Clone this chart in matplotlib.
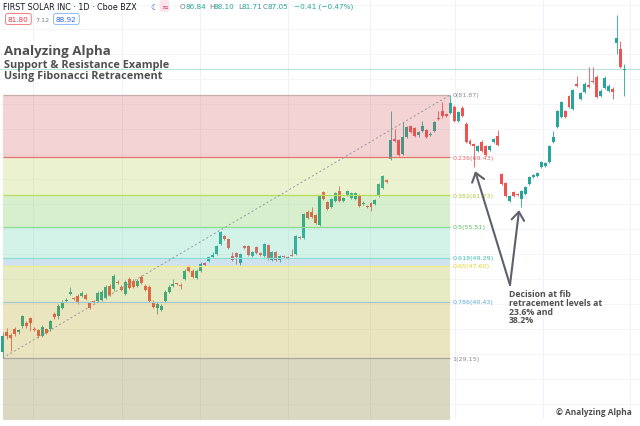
import matplotlib
matplotlib.use("Agg")
import matplotlib.pyplot as plt

# daily candles (bar index = position in list)
opens = [30.3, 34.4, 33.8, 35.0, 34.3, 35.5, 36.1, 37.1, 35.0, 34.7,
         33.5, 34.9, 34.9, 38.0, 37.6, 39.2, 40.6, 42.0, 41.1, 41.6,
         41.6, 41.8, 40.2, 40.6, 40.6, 40.8, 41.2, 43.6, 42.9, 44.4,
         43.4, 42.0, 45.0, 44.6, 43.6, 45.4, 43.6, 43.4, 40.4, 39.2,
         38.8, 40.6, 42.4, 43.6, 44.0, 43.8, 45.0, 47.4, 46.6, 45.2,
         46.6, 48.2, 48.6, 49.4, 50.0, 52.0, 53.6, 53.0, 49.6, 50.2,
         48.2, 51.6, 51.6, 49.6, 51.4, 50.2, 49.6, 51.8, 48.8, 50.4,
         48.8, 49.6, 49.4, 49.9, 50.0, 53.4, 53.2, 58.4, 58.4, 57.8,
         55.8, 62.4, 60.4, 59.4, 60.6, 62.6, 60.6, 61.8, 61.2, 61.0,
         61.8, 60.1, 59.7, 60.2, 60.0, 61.6, 63.2, 64.8, 69.0, 73.0,
         72.8, 70.0, 73.4, 75.6, 75.2, 73.8, 74.6, 74.8, 73.9, 74.6,
         77.2, 78.6, 78.0, 78.2, 79.5, 76.7, 79.3, 76.1, 72.7, 72.0,
         70.6, 72.5, 71.6, 70.8, 72.4, 73.6, 66.0, 64.2, 60.6, 62.4,
         62.0, 61.0, 62.0, 64.0, 65.5, 65.6, 67.4, 67.6, 68.4, 72.4,
         75.4, 77.4, 78.6, 81.6, 79.0, 84.1, 81.0, 82.4, 83.9, 84.7,
         85.5, 81.7, 83.3, 82.7, 83.1, 92.3, 91.1, 86.84]
highs = [34.4, 35.2, 34.2, 35.4, 35.0, 37.8, 36.6, 37.4, 35.3, 35.0,
         35.7, 35.2, 36.8, 38.4, 39.9, 40.7, 41.1, 43.4, 41.3, 41.9,
         42.5, 42.1, 40.5, 40.8, 42.5, 42.7, 43.7, 43.9, 45.9, 44.7,
         43.7, 44.7, 45.3, 44.9, 44.9, 45.7, 43.9, 43.7, 40.7, 40.3,
         39.9, 42.7, 43.7, 45.0, 44.2, 44.1, 46.9, 47.7, 46.9, 46.9,
         48.3, 48.4, 49.7, 50.4, 51.9, 54.7, 53.9, 53.3, 50.4, 50.5,
         50.3, 51.9, 51.9, 50.7, 51.7, 50.5, 52.3, 52.1, 50.7, 50.7,
         49.9, 49.8, 49.6, 51.0, 53.9, 53.6, 58.3, 58.8, 59.4, 58.1,
         61.9, 62.7, 60.7, 61.3, 62.5, 63.6, 61.5, 62.9, 62.5, 62.5,
         62.1, 60.6, 59.9, 60.5, 61.1, 64.3, 65.9, 65.1, 78.7, 75.0,
         73.1, 76.4, 75.7, 75.9, 75.5, 74.7, 76.6, 75.1, 74.4, 76.7,
         78.6, 80.4, 78.3, 81.87, 79.8, 78.7, 79.6, 76.4, 73.0, 72.3,
         71.9, 72.8, 71.9, 71.9, 73.3, 74.9, 66.3, 64.5, 61.9, 62.7,
         62.3, 62.9, 63.7, 65.7, 66.0, 66.5, 68.7, 68.5, 71.9, 74.6,
         78.9, 80.7, 78.9, 81.9, 83.1, 85.7, 82.5, 84.4, 87.5, 87.5,
         85.8, 83.0, 85.6, 84.0, 83.4, 97.9, 92.6, 88.10]
lows = [29.15, 33.0, 30.6, 33.6, 34.0, 35.2, 35.2, 34.6, 34.5, 33.2,
        33.3, 34.0, 34.6, 37.0, 37.0, 39.0, 40.4, 41.8, 40.8, 39.9,
        41.4, 40.8, 38.9, 40.2, 40.4, 40.6, 41.0, 41.5, 42.6, 44.0,
        42.5, 41.8, 43.0, 43.2, 43.4, 44.0, 42.5, 40.4, 39.2, 38.0,
        38.5, 40.4, 42.2, 43.4, 43.7, 43.0, 44.8, 46.3, 45.2, 45.0,
        46.4, 47.6, 48.4, 49.2, 49.8, 51.8, 52.8, 51.0, 48.5, 48.0,
        47.8, 51.0, 49.6, 49.4, 50.0, 49.6, 49.4, 48.8, 48.6, 48.6,
        48.4, 49.2, 49.0, 49.5, 49.8, 53.0, 53.0, 57.0, 57.2, 56.0,
        55.6, 60.8, 58.8, 59.2, 60.4, 60.4, 60.4, 61.6, 61.0, 60.8,
        59.4, 59.9, 59.3, 58.6, 59.8, 61.4, 63.0, 64.2, 68.8, 72.4,
        69.6, 69.8, 73.2, 74.2, 73.5, 73.4, 74.4, 73.2, 73.7, 74.4,
        76.8, 77.2, 77.4, 78.0, 76.5, 76.5, 77.5, 72.3, 71.9, 67.4,
        70.4, 70.4, 69.7, 70.6, 72.2, 71.6, 63.8, 61.4, 60.4, 61.4,
        61.6, 59.4, 61.8, 63.8, 65.3, 65.4, 67.2, 67.4, 68.2, 72.2,
        75.2, 77.2, 77.2, 79.2, 78.8, 83.5, 80.8, 82.2, 83.3, 84.3,
        81.3, 81.5, 83.1, 82.5, 81.0, 90.0, 87.3, 81.71]
closes = [33.6, 33.6, 33.2, 33.9, 34.7, 37.5, 35.6, 36.2, 34.8, 33.5,
          35.4, 34.2, 36.5, 37.3, 39.6, 40.4, 40.8, 42.4, 41.0, 40.2,
          42.2, 41.0, 39.2, 40.4, 42.2, 42.4, 43.4, 41.8, 45.6, 44.2,
          42.8, 44.4, 43.2, 43.4, 44.6, 44.2, 42.8, 40.6, 39.4, 40.0,
          39.6, 42.4, 43.4, 44.0, 43.9, 43.6, 46.6, 46.6, 45.4, 46.6,
          48.0, 47.8, 49.4, 49.8, 51.6, 54.4, 53.0, 51.2, 48.8, 49.4,
          50.0, 51.2, 49.8, 50.4, 50.2, 49.8, 52.0, 49.0, 50.4, 48.8,
          49.6, 49.4, 49.2, 49.7, 53.6, 53.2, 58.0, 57.2, 57.4, 56.2,
          61.6, 61.0, 59.0, 61.0, 62.2, 60.6, 61.2, 62.6, 62.2, 62.2,
          59.6, 60.3, 59.5, 59.4, 60.8, 64.0, 65.6, 64.4, 72.8, 72.7,
          69.8, 73.4, 75.4, 74.4, 73.7, 74.4, 75.6, 73.4, 74.1, 76.4,
          77.0, 77.6, 77.6, 80.2, 76.7, 78.4, 77.7, 72.5, 72.1, 71.7,
          71.6, 70.6, 69.9, 71.6, 73.0, 71.8, 64.0, 61.6, 61.6, 61.6,
          61.8, 62.6, 63.4, 65.4, 65.8, 66.2, 68.4, 68.2, 71.6, 73.4,
          78.6, 80.4, 77.4, 79.4, 82.8, 83.7, 82.2, 84.1, 83.5, 84.5,
          81.5, 82.7, 85.3, 83.7, 82.5, 93.3, 87.5, 87.05]

# fibonacci retracement drawn from the swing low (bar 0) to the swing high (bar 113)
swing_low_bar = 0
swing_high_bar = 113
fib_levels = [0, 0.236, 0.382, 0.5, 0.618, 0.65, 0.786, 1, 1.272]
fib_line_colors = ['#c9aeb0', '#e57373', '#b9dc5c', '#8edb8e', '#8fdcd2',
                   '#f2ec86', '#a3c6cc', '#a9a89c', '#a9a89c']
fib_label_colors = ['#8a8d96', '#e86a6a', '#a8c93c', '#5cc05c', '#3fbfae',
                    '#e3d22a', '#5ea9de', '#8a8d96', '#8a8d96']
# zone colours (drawn at alpha .25 over the candles)
fib_fill_colors = ['#d35353', '#b3cf43', '#63c33b', '#53d3ab', '#4393c3',
                   '#a3b313', '#af9b00', '#73670f']

month_bars = [7.7, 30.1, 49.8, 72.0, 92.7, 114.2, 136.4, 158.4]

UP = '#26a69a'
DOWN = '#ef5350'
INK = '#505050'
BOLD_FONT = 'Open Sans'

fig = plt.figure(figsize=(6.4, 4.27), dpi=100)
ax = fig.add_axes([0, 7 / 427, 1, 420 / 427])
ax.set_xlim(-0.68, 160.93)
ax.set_ylim(16.93, 101.11)
ax.axis('off')

for b in month_bars:
    ax.axvline(b, color='#f0f2f7', lw=0.8, zorder=0)
for p in range(20, 101, 5):
    ax.axhline(p, color='#f3f4f8', lw=0.6, zorder=0)

# candles
bars = range(len(closes))
colors = [UP if c >= o else DOWN for o, c in zip(opens, closes)]
ax.vlines(bars, lows, highs, colors=colors, lw=0.6, zorder=2)
heights = [max(abs(c - o), 0.2) for o, c in zip(opens, closes)]
bottoms = [min(o, c) for o, c in zip(opens, closes)]
ax.bar(bars, heights, bottom=bottoms, width=0.75, color=colors, lw=0, zorder=2)

# last price line
ax.axhline(closes[-1], color=UP, alpha=0.3, lw=0.8, zorder=1)

# fib zones
lo = lows[swing_low_bar]
hi = highs[swing_high_bar]
fib_prices = [hi - lv * (hi - lo) for lv in fib_levels]
x0, x1 = swing_low_bar, swing_high_bar
ymin = ax.get_ylim()[0]
for i in range(len(fib_levels) - 1):
    ax.fill_between([x0, x1], fib_prices[i], fib_prices[i + 1],
                    color=fib_fill_colors[i], alpha=0.25, lw=0, zorder=3)
for lv, p, lc, tc in zip(fib_levels, fib_prices, fib_line_colors, fib_label_colors):
    ax.hlines(p, x0, x1, color=lc, lw=0.9, zorder=4)
    if p > ymin + 1:
        ax.text(x1 + 0.6, p, '{:g}({:.2f})'.format(lv, p), color=tc, fontsize=4.6,
                va='center', ha='left', zorder=5)

ax.plot([x0, x1], [lo, hi], color='#9598a1', lw=0.7, ls=(0, (2, 2.5)), zorder=4)

# annotation arrows
arrow_kw = dict(arrowstyle='->,head_length=0.6,head_width=0.45', color='#5d606b',
                lw=1.5, shrinkA=0, shrinkB=0)
ax.annotate('', xy=(119.3, 66.6), xytext=(128.1, 43.8), arrowprops=arrow_kw, zorder=6)
ax.annotate('', xy=(130.4, 58.8), xytext=(128.1, 43.8), arrowprops=arrow_kw, zorder=6)
ax.text(127.9, 42.9, 'Decision at fib\nretracement levels at\n23.6% and\n38.2%',
        fontsize=6.3, fontweight='bold', family=BOLD_FONT, color=INK,
        va='top', ha='left', linespacing=0.95, zorder=6)


def px(x, y):
    return x / 640, 1 - y / 427


# header
fig.text(*px(3, 7), 'FIRST SOLAR INC · 1D · Cboe BZX', fontsize=5.8,
         color='#131722', va='center', family='DejaVu Sans')
fig.text(*px(150, 7), '☾', fontsize=6, color='#2962ff', va='center')
fig.text(*px(161, 7), '≈', fontsize=6, color='#e91e63', va='center',
         bbox=dict(boxstyle='round,pad=0.15', fc='#fce4ec', ec='none'))
ohlc = [(180, 'O', '#787b86'), (185, '86.84', UP), (209, 'H', '#787b86'),
        (214, '88.10', UP), (238, 'L', '#787b86'), (242, '81.71', UP),
        (263, 'C', '#787b86'), (268, '87.05', UP), (294, '−0.41 (−0.47%)', UP)]
for x, t, c in ohlc:
    fig.text(*px(x, 7), t, fontsize=5.2, color=c, va='center')

fig.text(*px(8, 20), '81.80', fontsize=5.2, color='#f23645', va='center',
         bbox=dict(boxstyle='round,pad=0.35', fc='white', ec='#f77c80', lw=0.7))
fig.text(*px(35, 20), '7.12', fontsize=4.6, color='#787b86', va='center')
fig.text(*px(56, 20), '88.92', fontsize=5.2, color='#2962ff', va='center',
         bbox=dict(boxstyle='round,pad=0.35', fc='white', ec='#90bff9', lw=0.7))

# titles
fig.text(*px(4, 52), 'Analyzing Alpha', fontsize=9.6, fontweight='bold',
         family=BOLD_FONT, color=INK, va='center')
fig.text(*px(4, 66), 'Support & Resistance Example', fontsize=7.8,
         fontweight='bold', family=BOLD_FONT, color=INK, va='center')
fig.text(*px(4, 77), 'Using Fibonacci Retracement', fontsize=7.8,
         fontweight='bold', family=BOLD_FONT, color=INK, va='center')
fig.text(*px(632, 413), '© Analyzing Alpha', fontsize=6.0, fontweight='bold',
         family=BOLD_FONT, color=INK, va='center', ha='right')

fig.savefig('out.png', dpi=100)
